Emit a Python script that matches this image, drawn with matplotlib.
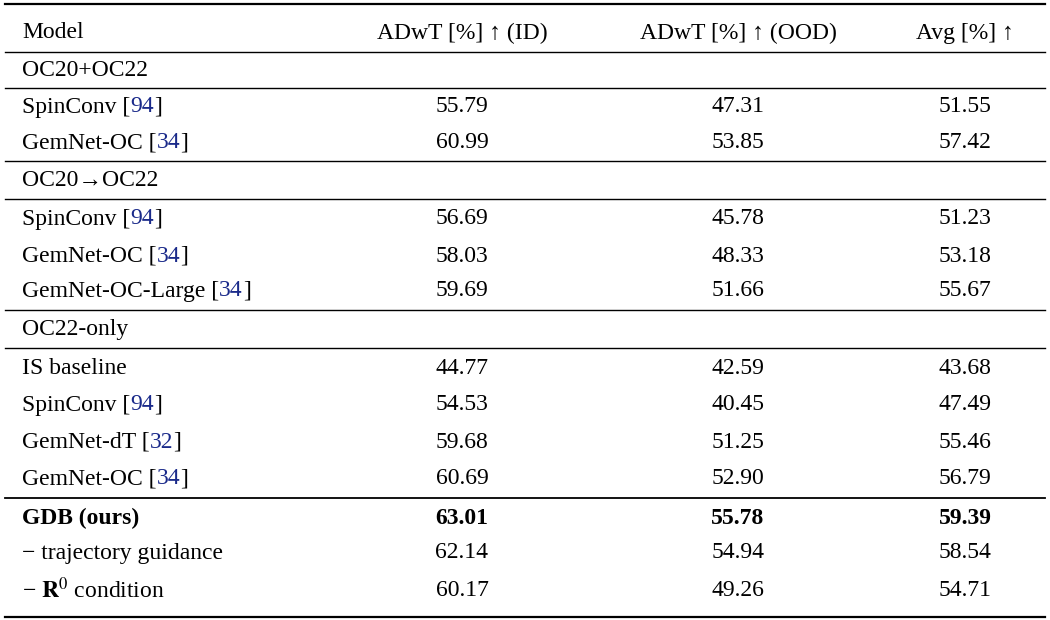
import matplotlib
matplotlib.use("Agg")
import matplotlib.pyplot as plt

plt.rcParams['font.family'] = ['Liberation Serif', 'DejaVu Serif']
plt.rcParams['mathtext.fontset'] = 'stix'

headers = ["Model", "ADwT [%] ↑ (ID)", "ADwT [%] ↑ (OOD)", "Avg [%] ↑"]
groups = ["OC20+OC22", "OC20→OC22", "OC22-only"]
models = [
    [("SpinConv", "94"), ("GemNet-OC", "34")],
    [("SpinConv", "94"), ("GemNet-OC", "34"), ("GemNet-OC-Large", "34")],
    [("IS baseline", None), ("SpinConv", "94"), ("GemNet-dT", "32"), ("GemNet-OC", "34")],
]
values = [
    [["55.79", "47.31", "51.55"], ["60.99", "53.85", "57.42"]],
    [["56.69", "45.78", "51.23"], ["58.03", "48.33", "53.18"], ["59.69", "51.66", "55.67"]],
    [["44.77", "42.59", "43.68"], ["54.53", "40.45", "47.49"], ["59.68", "51.25", "55.46"], ["60.69", "52.90", "56.79"]],
]
ours = [("GDB (ours)", ["63.01", "55.78", "59.39"]),
        ("− trajectory guidance", ["62.14", "54.94", "58.54"]),
        ("− $\\mathbf{R}^0$ condition", ["60.17", "49.26", "54.71"])]

W, H = 1050, 620
fig = plt.figure(figsize=(10.5, 6.2), dpi=100)
ax = fig.add_axes([0, 0, 1, 1])
ax.set_xlim(0, W); ax.set_ylim(H, 0); ax.axis('off')
fig.canvas.draw()
r = fig.canvas.get_renderer()
fs = 17
blue = '#1a2a8a'
colx = [22, 462, 738, 965]
group_y = [71, 180, 329]
row_y = [[107, 143], [219, 256, 291], [368, 405, 442, 479]]
our_y = [518, 553, 590]

def hline(y, lw=1.0):
    ax.plot([5, 1045], [y, y], color='black', lw=lw)

def txt(x, y, s, ha='left', **kw):
    return ax.text(x, y, s, ha=ha, va='center', fontsize=fs, **kw)

def model(y, name, cite):
    t = txt(colx[0], y, name + (" [" if cite else ""))
    if cite:
        bb = t.get_window_extent(r)
        t2 = txt(bb.x1, y, cite, color=blue)
        bb2 = t2.get_window_extent(r)
        txt(bb2.x1, y, "]")

hline(4, 1.6)
txt(colx[0], 33, headers[0])
for i in range(1, 4):
    txt(colx[i], 33, headers[i], ha='center')
for y in [52, 88, 161, 199, 310, 348]:
    hline(y)
for g, gy, ms, vs, ys in zip(groups, group_y, models, values, row_y):
    txt(colx[0], gy, g)
    for (n, c), v, y in zip(ms, vs, ys):
        model(y, n, c)
        for i in range(3):
            txt(colx[i + 1], y, v[i], ha='center')
for (n, v), y in zip(ours, our_y):
    w = 'bold' if n.startswith("GDB") else 'normal'
    txt(colx[0], y, n, fontweight=w)
    for i in range(3):
        txt(colx[i + 1], y, v[i], ha='center', fontweight=w)
hline(498, 1.3)
hline(617, 1.6)
fig.savefig("out.png", dpi=100)
